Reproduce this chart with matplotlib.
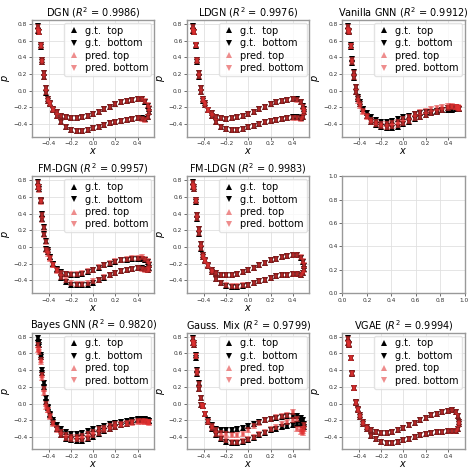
import matplotlib
matplotlib.use("Agg")
import matplotlib.pyplot as plt

x = [-0.5, -0.49, -0.475, -0.46, -0.445, -0.43, -0.41, -0.39, -0.36, -0.33, -0.29, -0.25, -0.2, -0.15,
     -0.1, -0.05, 0.0, 0.05, 0.1, 0.15, 0.2, 0.25, 0.3, 0.35, 0.4, 0.44, 0.47, 0.49, 0.5]

titles = ["DGN ($R^2$ = 0.9986)", "LDGN ($R^2$ = 0.9976)", "Vanilla GNN ($R^2$ = 0.9912)",
          "FM-DGN ($R^2$ = 0.9957)", "FM-LDGN ($R^2$ = 0.9983)", None,
          "Bayes GNN ($R^2$ = 0.9820)", "Gauss. Mix ($R^2$ = 0.9799)", "VGAE ($R^2$ = 0.9994)"]

# ground truth: upper curve (U) and lower curve (L) per panel
gt_U = {
 0: [0.72, 0.70, 0.53, 0.34, 0.16, -0.03, -0.12, -0.16, -0.22, -0.26, -0.30, -0.32, -0.33, -0.33, -0.32, -0.30, -0.28, -0.25, -0.22, -0.19, -0.16, -0.14, -0.12, -0.11, -0.10, -0.10, -0.13, -0.18, -0.22],
 1: [0.72, 0.70, 0.54, 0.35, 0.17, -0.02, -0.12, -0.17, -0.23, -0.27, -0.31, -0.33, -0.34, -0.33, -0.32, -0.30, -0.28, -0.25, -0.22, -0.19, -0.16, -0.14, -0.12, -0.11, -0.10, -0.10, -0.13, -0.18, -0.22],
 2: [0.72, 0.70, 0.53, 0.33, 0.15, -0.02, -0.10, -0.16, -0.22, -0.27, -0.32, -0.35, -0.37, -0.37, -0.36, -0.34, -0.32, -0.30, -0.28, -0.27, -0.26, -0.25, -0.24, -0.23, -0.23, -0.23, -0.22, -0.22, -0.22],
 3: [0.72, 0.70, 0.55, 0.34, 0.16, -0.02, -0.06, -0.12, -0.20, -0.26, -0.30, -0.32, -0.33, -0.33, -0.32, -0.30, -0.28, -0.25, -0.22, -0.20, -0.18, -0.16, -0.15, -0.14, -0.14, -0.14, -0.15, -0.18, -0.22],
 4: [0.72, 0.70, 0.54, 0.34, 0.16, -0.02, -0.12, -0.17, -0.22, -0.27, -0.31, -0.33, -0.33, -0.33, -0.32, -0.30, -0.28, -0.25, -0.22, -0.19, -0.16, -0.14, -0.12, -0.11, -0.10, -0.10, -0.13, -0.18, -0.23],
 6: [0.72, 0.70, 0.56, 0.37, 0.20, 0.02, -0.05, -0.12, -0.20, -0.26, -0.31, -0.34, -0.36, -0.36, -0.35, -0.33, -0.31, -0.29, -0.27, -0.25, -0.23, -0.22, -0.21, -0.20, -0.18, -0.18, -0.19, -0.20, -0.21],
 7: [0.72, 0.70, 0.55, 0.35, 0.17, -0.02, -0.03, -0.12, -0.20, -0.26, -0.30, -0.32, -0.32, -0.32, -0.31, -0.29, -0.27, -0.24, -0.22, -0.20, -0.18, -0.17, -0.16, -0.15, -0.15, -0.15, -0.17, -0.20, -0.24],
 8: [0.72, 0.70, 0.54, 0.35, 0.18, 0.01, -0.06, -0.14, -0.22, -0.28, -0.32, -0.34, -0.35, -0.35, -0.34, -0.32, -0.29, -0.26, -0.23, -0.20, -0.17, -0.14, -0.12, -0.10, -0.09, -0.08, -0.10, -0.15, -0.22],
}
gt_L = {
 0: [0.78, 0.70, 0.55, 0.37, 0.21, 0.03, -0.10, -0.15, -0.23, -0.30, -0.38, -0.43, -0.47, -0.48, -0.48, -0.47, -0.45, -0.43, -0.41, -0.39, -0.37, -0.36, -0.35, -0.34, -0.33, -0.33, -0.34, -0.32, -0.26],
 1: [0.78, 0.70, 0.55, 0.37, 0.21, 0.03, -0.10, -0.15, -0.23, -0.30, -0.38, -0.43, -0.46, -0.47, -0.47, -0.46, -0.44, -0.42, -0.40, -0.38, -0.36, -0.35, -0.34, -0.33, -0.32, -0.32, -0.33, -0.31, -0.26],
 2: [0.78, 0.72, 0.55, 0.38, 0.22, 0.04, -0.08, -0.14, -0.22, -0.30, -0.37, -0.41, -0.44, -0.45, -0.45, -0.43, -0.40, -0.37, -0.34, -0.31, -0.29, -0.27, -0.25, -0.23, -0.21, -0.20, -0.20, -0.21, -0.22],
 3: [0.78, 0.72, 0.57, 0.40, 0.24, 0.07, -0.03, -0.12, -0.20, -0.28, -0.37, -0.42, -0.45, -0.46, -0.46, -0.45, -0.43, -0.40, -0.37, -0.34, -0.31, -0.29, -0.27, -0.26, -0.25, -0.25, -0.26, -0.27, -0.25],
 4: [0.78, 0.72, 0.56, 0.38, 0.22, 0.04, -0.09, -0.15, -0.23, -0.30, -0.38, -0.43, -0.47, -0.48, -0.48, -0.47, -0.45, -0.43, -0.41, -0.39, -0.37, -0.35, -0.34, -0.33, -0.32, -0.32, -0.33, -0.31, -0.26],
 6: [0.78, 0.74, 0.58, 0.40, 0.24, 0.06, -0.04, -0.14, -0.22, -0.30, -0.38, -0.42, -0.44, -0.45, -0.45, -0.43, -0.40, -0.36, -0.33, -0.30, -0.28, -0.26, -0.24, -0.22, -0.20, -0.20, -0.20, -0.21, -0.21],
 7: [0.78, 0.72, 0.58, 0.40, 0.24, 0.06, -0.03, -0.13, -0.22, -0.30, -0.38, -0.43, -0.46, -0.47, -0.47, -0.46, -0.44, -0.41, -0.38, -0.35, -0.32, -0.30, -0.28, -0.27, -0.26, -0.25, -0.25, -0.26, -0.28],
 8: [0.78, 0.71, 0.54, 0.36, 0.19, 0.02, -0.08, -0.16, -0.24, -0.31, -0.39, -0.43, -0.46, -0.47, -0.47, -0.46, -0.44, -0.42, -0.40, -0.38, -0.36, -0.35, -0.34, -0.34, -0.33, -0.33, -0.33, -0.30, -0.25],
}
# predictions
pred_U = {
 0: [0.73, 0.70, 0.54, 0.35, 0.17, -0.02, -0.12, -0.16, -0.22, -0.26, -0.30, -0.32, -0.33, -0.33, -0.32, -0.30, -0.28, -0.25, -0.22, -0.19, -0.16, -0.14, -0.12, -0.11, -0.10, -0.10, -0.12, -0.17, -0.21],
 1: [0.73, 0.70, 0.55, 0.36, 0.18, -0.01, -0.11, -0.17, -0.23, -0.27, -0.31, -0.33, -0.34, -0.33, -0.32, -0.30, -0.28, -0.25, -0.22, -0.19, -0.16, -0.14, -0.12, -0.11, -0.10, -0.11, -0.14, -0.19, -0.23],
 2: [0.73, 0.70, 0.54, 0.34, 0.16, -0.01, -0.12, -0.18, -0.25, -0.30, -0.35, -0.38, -0.40, -0.40, -0.39, -0.37, -0.34, -0.31, -0.28, -0.26, -0.24, -0.22, -0.21, -0.20, -0.18, -0.18, -0.19, -0.20, -0.21],
 3: [0.72, 0.69, 0.54, 0.33, 0.15, -0.03, -0.08, -0.14, -0.22, -0.27, -0.31, -0.32, -0.32, -0.32, -0.31, -0.29, -0.27, -0.24, -0.21, -0.19, -0.17, -0.15, -0.14, -0.13, -0.13, -0.12, -0.14, -0.17, -0.20],
 4: [0.73, 0.70, 0.55, 0.35, 0.17, -0.01, -0.12, -0.17, -0.22, -0.27, -0.31, -0.33, -0.33, -0.33, -0.32, -0.30, -0.28, -0.25, -0.22, -0.19, -0.16, -0.14, -0.12, -0.11, -0.10, -0.10, -0.12, -0.17, -0.22],
 6: [0.64, 0.62, 0.50, 0.30, 0.12, -0.04, -0.08, -0.15, -0.23, -0.29, -0.34, -0.38, -0.40, -0.40, -0.39, -0.37, -0.34, -0.31, -0.29, -0.27, -0.25, -0.24, -0.23, -0.22, -0.21, -0.21, -0.22, -0.22, -0.23],
 7: [0.72, 0.70, 0.57, 0.37, 0.17, -0.02, -0.03, -0.12, -0.21, -0.27, -0.32, -0.35, -0.37, -0.38, -0.38, -0.36, -0.32, -0.27, -0.23, -0.20, -0.18, -0.16, -0.15, -0.14, -0.10, -0.18, -0.30, -0.33, -0.26],
 8: [0.72, 0.70, 0.54, 0.35, 0.18, 0.01, -0.06, -0.14, -0.22, -0.28, -0.32, -0.34, -0.35, -0.35, -0.34, -0.32, -0.29, -0.26, -0.23, -0.20, -0.17, -0.14, -0.12, -0.10, -0.09, -0.08, -0.10, -0.15, -0.22],
}
pred_L = {
 0: [0.77, 0.70, 0.55, 0.37, 0.21, 0.03, -0.10, -0.15, -0.23, -0.30, -0.38, -0.43, -0.47, -0.48, -0.48, -0.47, -0.45, -0.43, -0.41, -0.39, -0.37, -0.36, -0.35, -0.34, -0.33, -0.34, -0.35, -0.32, -0.26],
 1: [0.77, 0.70, 0.55, 0.37, 0.21, 0.03, -0.10, -0.15, -0.23, -0.30, -0.38, -0.43, -0.46, -0.47, -0.47, -0.46, -0.44, -0.42, -0.40, -0.38, -0.36, -0.35, -0.34, -0.33, -0.33, -0.33, -0.34, -0.31, -0.26],
 2: [0.77, 0.72, 0.54, 0.37, 0.21, 0.04, -0.09, -0.16, -0.24, -0.31, -0.37, -0.40, -0.42, -0.43, -0.42, -0.41, -0.39, -0.36, -0.33, -0.31, -0.29, -0.27, -0.25, -0.23, -0.21, -0.20, -0.20, -0.21, -0.22],
 3: [0.77, 0.72, 0.56, 0.39, 0.23, 0.06, -0.05, -0.13, -0.22, -0.29, -0.36, -0.40, -0.43, -0.44, -0.44, -0.43, -0.41, -0.39, -0.36, -0.33, -0.31, -0.29, -0.27, -0.26, -0.25, -0.26, -0.28, -0.28, -0.26],
 4: [0.77, 0.72, 0.56, 0.38, 0.22, 0.04, -0.09, -0.15, -0.23, -0.30, -0.38, -0.43, -0.46, -0.47, -0.47, -0.46, -0.45, -0.43, -0.41, -0.39, -0.37, -0.35, -0.34, -0.33, -0.32, -0.32, -0.33, -0.31, -0.27],
 6: [0.70, 0.65, 0.52, 0.34, 0.17, 0.00, -0.08, -0.16, -0.24, -0.32, -0.38, -0.41, -0.42, -0.42, -0.42, -0.41, -0.38, -0.35, -0.32, -0.30, -0.28, -0.26, -0.24, -0.23, -0.22, -0.22, -0.21, -0.22, -0.22],
 7: [0.77, 0.72, 0.57, 0.39, 0.23, 0.06, -0.03, -0.13, -0.22, -0.29, -0.36, -0.41, -0.44, -0.46, -0.46, -0.45, -0.43, -0.40, -0.37, -0.34, -0.31, -0.28, -0.25, -0.22, -0.20, -0.30, -0.34, -0.35, -0.30],
 8: [0.77, 0.71, 0.54, 0.36, 0.19, 0.02, -0.08, -0.16, -0.24, -0.31, -0.39, -0.43, -0.46, -0.47, -0.47, -0.46, -0.44, -0.42, -0.40, -0.38, -0.36, -0.35, -0.34, -0.34, -0.33, -0.33, -0.33, -0.30, -0.25],
}

fig, axes = plt.subplots(3, 3, figsize=(4.74, 4.73), dpi=100)
for i, ax in enumerate(axes.flat):
    ax.tick_params(labelsize=4.2, length=2, width=0.5, colors='#333333', pad=1.5)
    for s in ax.spines.values():
        s.set_color('#999999'); s.set_linewidth(1.0)
    ax.grid(True, color='#e0e0e0', linewidth=0.6)
    ax.set_axisbelow(True)
    if titles[i] is None:
        continue
    xx = x + x
    ms = 4.0
    ax.plot(xx, gt_L[i] + gt_U[i], '^', color='black', ms=ms, mew=0, label='g.t.  top')
    ax.plot(xx, gt_L[i] + gt_U[i], 'v', color='black', ms=ms, mew=0, label='g.t.  bottom')
    ax.plot(xx, pred_L[i] + pred_U[i], '^', color='#e03030', alpha=0.55, ms=ms, mew=0, label='pred. top')
    ax.plot(xx, pred_L[i] + pred_U[i], 'v', color='#e03030', alpha=0.55, ms=ms, mew=0, label='pred. bottom')
    ax.set_xlim(-0.55, 0.55)
    ax.set_ylim(-0.55, 0.85)
    ax.set_xticks([-0.4, -0.2, 0.0, 0.2, 0.4])
    ax.set_yticks([-0.4, -0.2, 0.0, 0.2, 0.4, 0.6, 0.8])
    ax.set_title(titles[i], fontsize=7, pad=2)
    ax.set_xlabel('$x$', fontsize=7, labelpad=0)
    ax.set_ylabel('$p$', fontsize=7, labelpad=1)
    ax.legend(loc='upper right', fontsize=7, handletextpad=0.4, borderpad=0.3,
              labelspacing=0.25, handlelength=1.5, framealpha=0.8, edgecolor='#dddddd',
              borderaxespad=0.3)

fig.subplots_adjust(left=0.068, right=0.98, top=0.958, bottom=0.05, wspace=0.27, hspace=0.34)
fig.savefig('out.png', dpi=100)
